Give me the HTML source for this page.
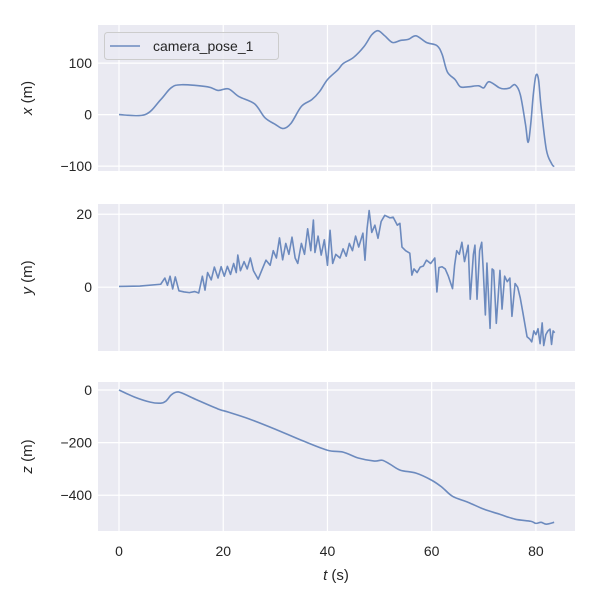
<!DOCTYPE html>
<html><head><meta charset="utf-8">
<style>
body{margin:0;background:#fff;}
svg{display:block;font-family:"Liberation Sans","DejaVu Sans",sans-serif;}
</style></head>
<body>
<svg id="chart" width="600" height="602" xmlns="http://www.w3.org/2000/svg"></svg>
<script>
const xTicks=[0,20,40,60,80];
const tX=[0,5,8,10,12,17,19,21,23,26,28,30,31.5,33,35,37,38.5,40,42,43,45,47,48.5,49.7,51,52.5,54,55.5,57,59,61,62,63,64.5,65.5,67,69,70,71,73,74,75,76,77,78,78.5,79,79.5,80,80.5,81,82,83,83.5];
const xVals=[0,0,29,52,58,54,47,50,35,21,-6,-19,-27,-17,16,29,45,68,87,99,111,132,155,163,153,140,144,146,153,140,134,117,83,68,54,54,56,52,64,52,50,52,58,39,-19,-54,-19,39,76,68,14,-68,-95,-101];
const tY=[0,4,8,8.8,9.3,9.8,10.3,10.8,11.5,12.5,13.5,14.5,15.3,16,16.5,17,17.7,18.3,19,19.6,20.2,20.8,21.4,22,22.5,22.8,23.3,24,24.6,25.2,25.8,26.7,27.5,28.2,29,29.6,30.2,30.8,31.4,32,32.6,33.2,33.8,34.3,35,35.6,36.2,36.8,37.3,37.6,38.2,38.8,39.4,40,40.5,41,41.6,42.4,43,43.6,44.2,44.8,45.4,46,46.8,47.2,47.6,48,48.5,49.1,49.7,50.3,51,52,52.6,53.4,53.9,54.3,55,55.8,56.2,56.6,57.2,57.8,58.4,59,59.8,60.6,61,61.4,62,62.6,63.2,64,64.4,64.8,65.3,65.8,66.3,67,67.4,68,68.3,68.7,69.2,69.6,69.9,70.3,70.6,71.2,71.6,71.9,72.4,73.1,73.5,74,74.5,75,75.4,76,76.5,77,77.5,78.3,78.8,79.2,79.6,80,80.4,80.8,81.2,81.5,81.9,82.3,82.7,83,83.3,83.6];
const yVals=[0.2,0.3,0.8,2.5,0.5,3,-0.5,2.8,-1,-1.3,-1.5,-1.2,-1.6,3,-0.8,4,2,5.5,2.5,5.6,3,5.7,3.5,6.5,4,8.8,4.5,7,5,8,4.5,2.2,5,7.4,6,10,8,13.5,7.5,12,9,13.7,8,6.5,12,9,16,10,18.4,9.5,14,8.8,13,6,15.6,6.5,9,8,10.5,8.5,12,10,14,11,14.8,7.4,16,21,15,17,13.4,18,19.7,19,19.2,17,17.5,11,10,9.3,3.3,5,4,5.5,5.8,7.4,6.5,8,-1.3,5.4,5.6,5,3,-0.4,6,10,9,12.3,7,11.5,-3.3,9,11.5,-3.3,10,12.3,4.5,-7.6,6.6,-11.3,5,4.6,-9.9,4.6,-6,3,1.5,2.5,-8,1,0,-3,-7,-13.6,-14.2,-15,-12,-13,-11.4,-15.5,-9.8,-16,-13,-12,-11.5,-15.7,-12,-12.5];
const tZ=[0,3,6,8,9,10,11,12,15,19,21,25,30,35,40,43,46,49,50.5,52,54,57,60,62,64,67,70,73,76,79,80,81,82,83.5];
const zVals=[0,-27,-46,-50,-42,-19,-8,-11,-38,-72,-84,-110,-149,-191,-229,-236,-259,-270,-267,-282,-305,-316,-343,-370,-404,-427,-453,-472,-491,-499,-507,-503,-510,-503];
const yTicks1=[100,0,-100], yTicks2=[20,0], yTicks3=[0,-200,-400];

const NS="http://www.w3.org/2000/svg";
const svg=document.getElementById('chart');
function el(tag,attrs,parent){const e=document.createElementNS(NS,tag);for(const k in attrs)e.setAttribute(k,attrs[k]);(parent||svg).appendChild(e);return e;}
const X0=98,X1=575;
const tMin=-4.03,tMax=87.5;
function sx(t){return X0+(t-tMin)/(tMax-tMin)*(X1-X0);}
function smoothPath(pts){
 let d='M'+pts[0][0].toFixed(2)+','+pts[0][1].toFixed(2);
 for(let i=0;i<pts.length-1;i++){
  const p0=pts[Math.max(0,i-1)],p1=pts[i],p2=pts[i+1],p3=pts[Math.min(pts.length-1,i+2)];
  const c1=[p1[0]+(p2[0]-p0[0])/6,p1[1]+(p2[1]-p0[1])/6];
  const c2=[p2[0]-(p3[0]-p1[0])/6,p2[1]-(p3[1]-p1[1])/6];
  d+='C'+c1[0].toFixed(2)+','+c1[1].toFixed(2)+' '+c2[0].toFixed(2)+','+c2[1].toFixed(2)+' '+p2[0].toFixed(2)+','+p2[1].toFixed(2);
 }
 return d;
}
const panels=[
 {name:'x-panel',top:25,bot:171,vmin:-109.5,vmax:174,ticks:yTicks1,ts:tX,vs:xVals,lab:'x',smooth:true},
 {name:'y-panel',top:204,bot:351,vmin:-17.5,vmax:22.8,ticks:yTicks2,ts:tY,vs:yVals,lab:'y',smooth:false},
 {name:'z-panel',top:382,bot:531,vmin:-536,vmax:30.5,ticks:yTicks3,ts:tZ,vs:zVals,lab:'z',smooth:true}
];
panels.forEach((p,i)=>{
 const g=el('g',{});
 
 
 const sy=v=>p.bot-(v-p.vmin)/(p.vmax-p.vmin)*(p.bot-p.top);
 const bg=el('rect',{x:X0,y:p.top,width:X1-X0,height:p.bot-p.top,fill:'#eaeaf2'},g);
 
 
 xTicks.forEach(t=>{
  const l=el('line',{x1:sx(t),x2:sx(t),y1:p.top,y2:p.bot,stroke:'#fff','stroke-width':1.2},g);
  
  
 });
 p.ticks.forEach(v=>{
  const y=sy(v);
  const l=el('line',{x1:X0,x2:X1,y1:y,y2:y,stroke:'#fff','stroke-width':1.2},g);
  
  
  const tx=el('text',{x:X0-6,y:y+5,'text-anchor':'end','font-size':14,fill:'#262626'},g);
  tx.textContent=v<0?'\u2212'+Math.abs(v):String(v);
  
  
 });
 const pts=p.ts.map((t,k)=>[sx(t),sy(p.vs[k])]);
 const d=p.smooth?smoothPath(pts):pts.map((q,k)=>(k?'L':'M')+q[0].toFixed(2)+','+q[1].toFixed(2)).join('');
 const path=el('path',{d:d,fill:'none',stroke:'#4c72b0','stroke-opacity':0.8,'stroke-width':1.6,'stroke-linejoin':'round'},g);
 
 
 const cy=(p.top+p.bot)/2;
 const yl=el('text',{x:0,y:0,transform:`translate(32,${cy}) rotate(-90)`,'text-anchor':'middle','font-size':15,fill:'#262626'},g);
 yl.innerHTML=`<tspan font-style="italic">${p.lab}</tspan> (m)`;
 
 
});
xTicks.forEach(t=>{
 const tx=el('text',{x:sx(t),y:556,'text-anchor':'middle','font-size':14,fill:'#262626'});
 tx.textContent=String(t);
 
 
});
const xl=el('text',{x:336,y:580,'text-anchor':'middle','font-size':15,fill:'#262626'});
xl.innerHTML='<tspan font-style="italic">t</tspan> (s)';


const lg=el('g',{});


el('rect',{x:104.5,y:32.5,width:174,height:27,rx:3,fill:'#eaeaf2','fill-opacity':0.8,stroke:'#ccc'},lg);
const ll=el('line',{x1:110,x2:140,y1:46,y2:46,stroke:'#4c72b0','stroke-opacity':0.8,'stroke-width':1.6},lg);


const lt=el('text',{x:153,y:51,'font-size':14,fill:'#262626'},lg);
lt.textContent='camera_pose_1';


</script>
</body></html>
